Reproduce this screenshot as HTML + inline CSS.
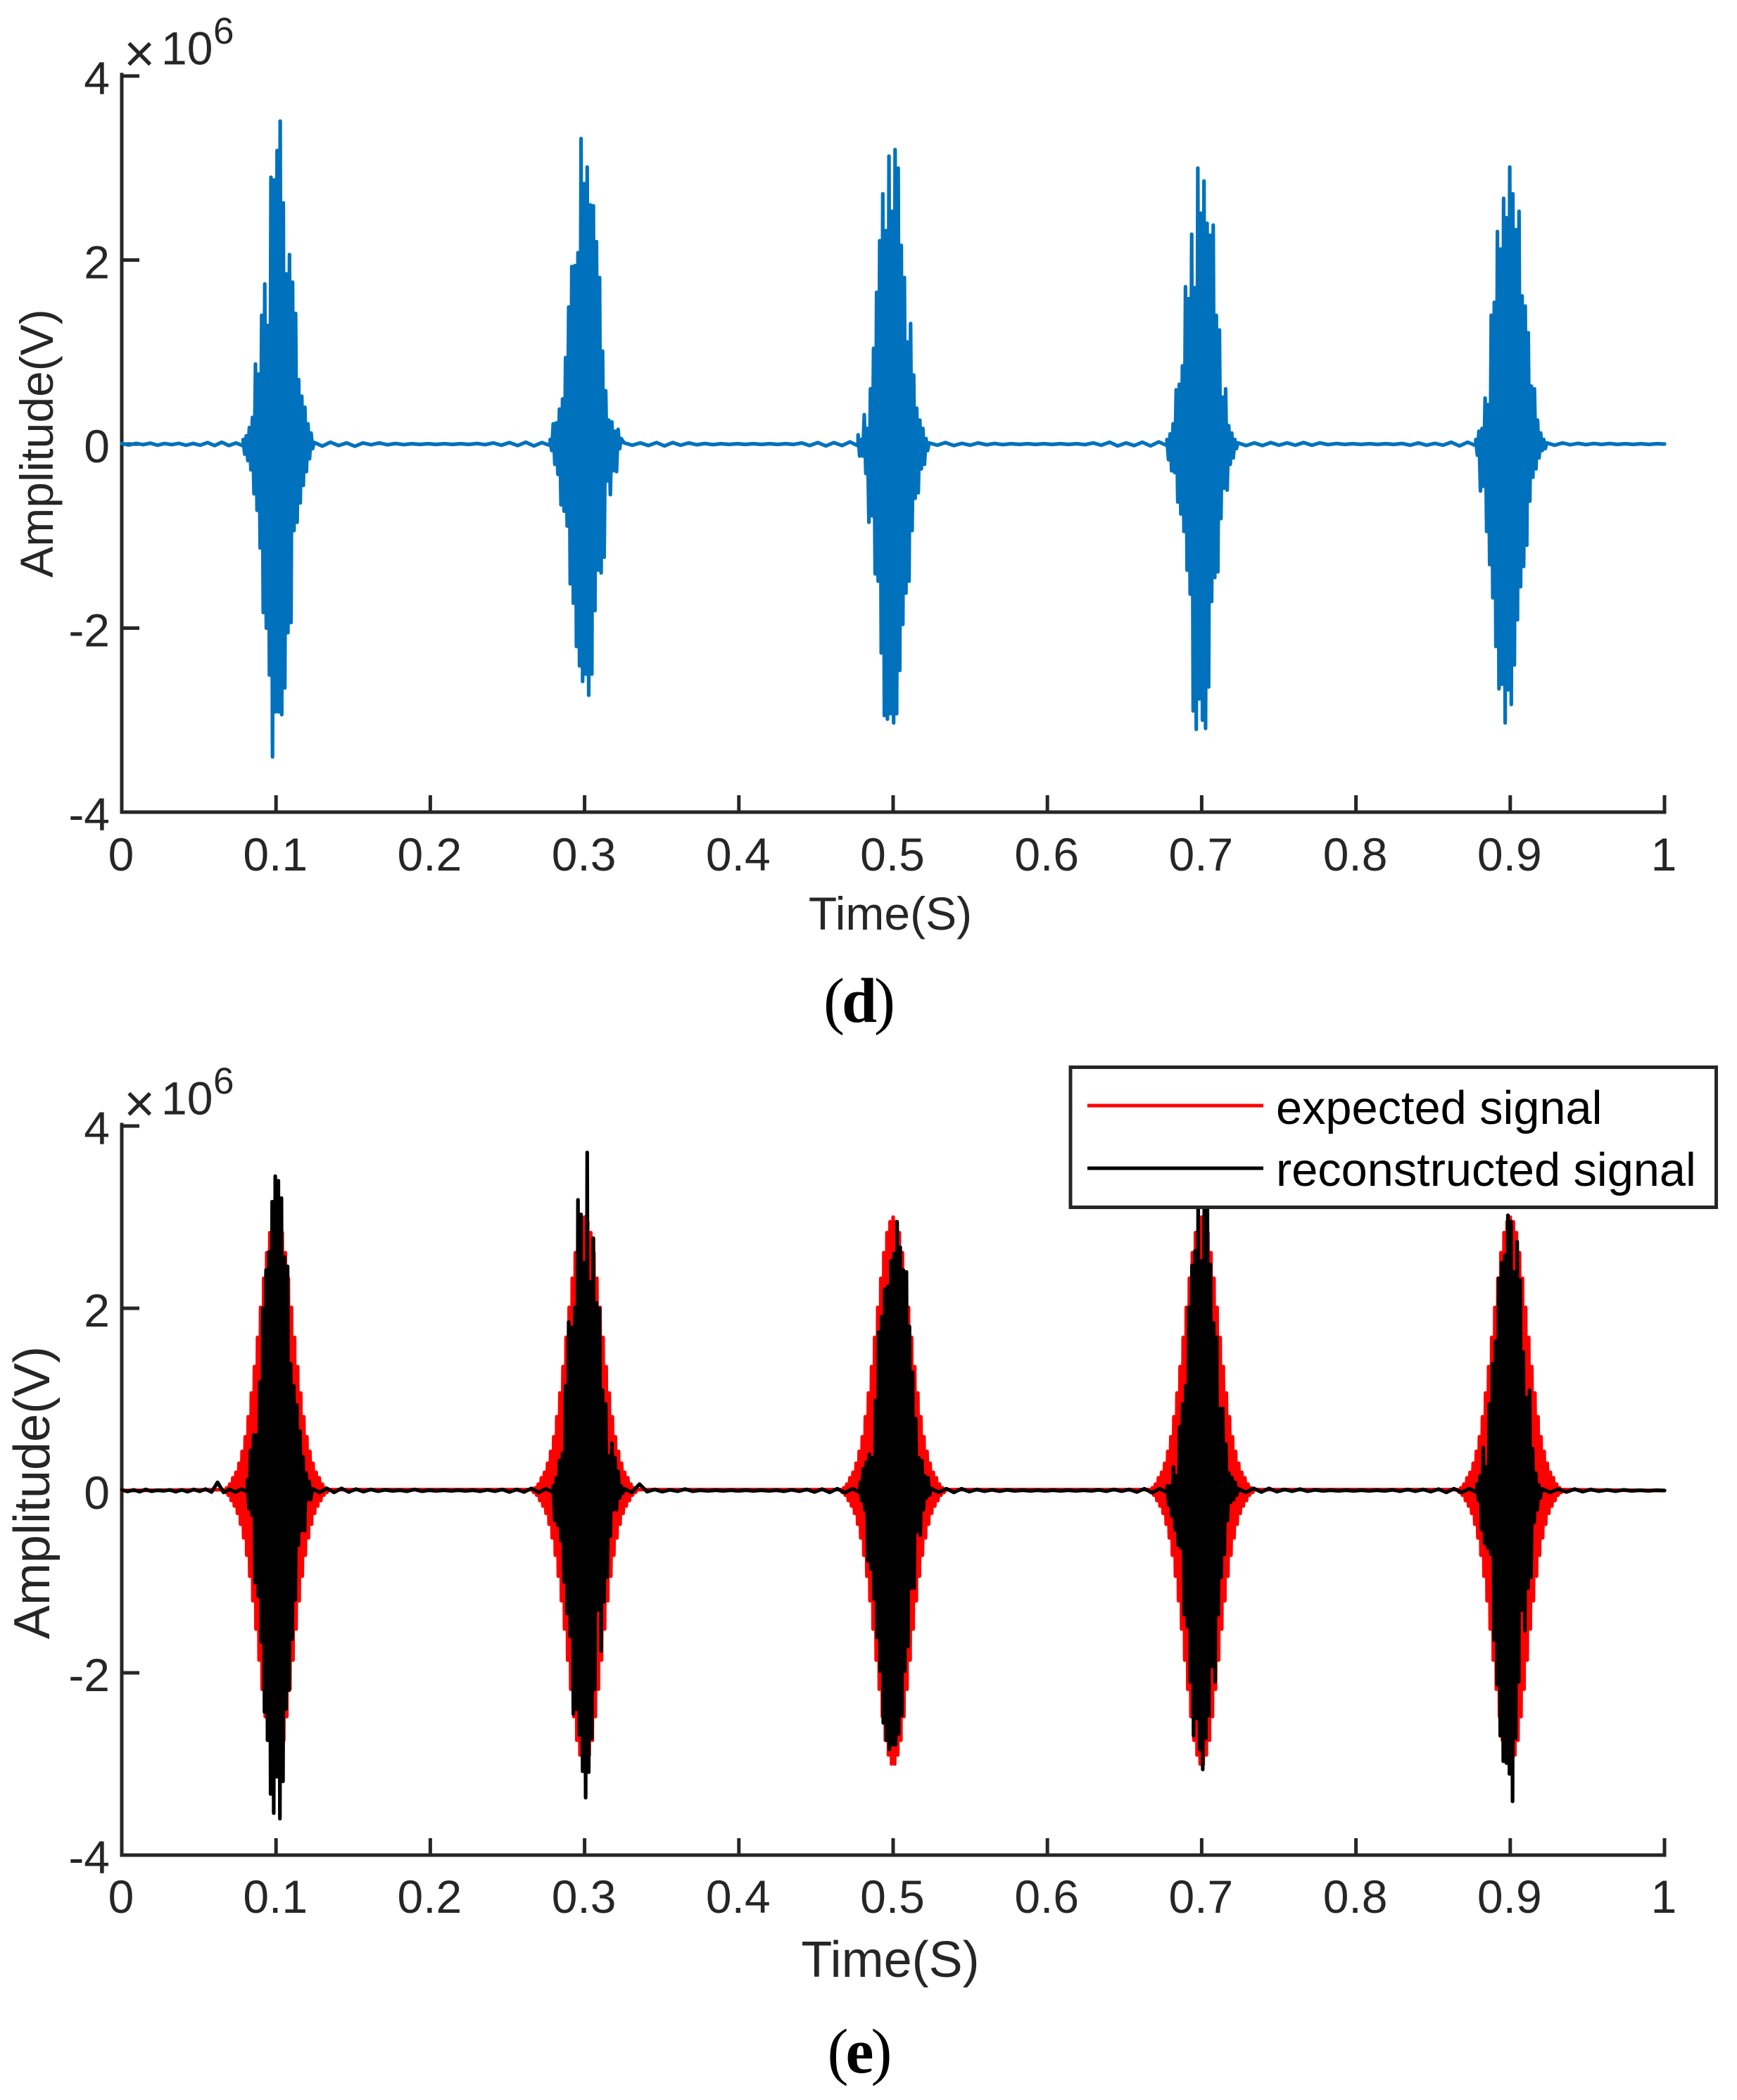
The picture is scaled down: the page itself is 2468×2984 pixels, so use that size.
<!DOCTYPE html>
<html lang="en">
<head>
<meta charset="utf-8">
<title>Expected and reconstructed signal amplitude over time</title>
<style>
  html, body { margin: 0; padding: 0; background: #ffffff; }
  svg { display: block; }
  text { font-family: "Liberation Sans", Arial, sans-serif; fill: #262626; }
  .cap { font-family: "Liberation Serif", "Times New Roman", serif; fill: #000; font-size: 90px; letter-spacing: -4px; }
  .legend-text { fill: #000; font-size: 66.7px; }
</style>
</head>
<body>
<svg id="figure" xmlns="http://www.w3.org/2000/svg" width="2468" height="2984" viewBox="0 0 2468 2984">
  <rect x="0" y="0" width="2468" height="2984" fill="#ffffff"/>

  <g id="chartD"></g>
  <g id="chartE"></g>

  <g>
    <text font-size="66" text-anchor="middle" transform="translate(75 630) rotate(-90)">Amplitude(V)</text>
    <text font-size="66" text-anchor="middle" x="1265" y="1321">Time(S)</text>
    <text font-size="76" x="176" y="102">×</text>
    <text font-size="66" x="229" y="91.5">10</text>
    <text font-size="53" x="303" y="62">6</text>
    <text class="cap" text-anchor="middle" x="1219" y="1452">(<tspan font-weight="bold">d</tspan>)</text>
  </g>

  <g>
    <text font-size="72" text-anchor="middle" transform="translate(70 2121) rotate(-90)">Amplitude(V)</text>
    <text font-size="72" text-anchor="middle" x="1265" y="2809">Time(S)</text>
    <text font-size="76" x="176" y="1594">×</text>
    <text font-size="66" x="229" y="1583.5">10</text>
    <text font-size="53" x="303" y="1554">6</text>
    <text class="cap" text-anchor="middle" x="1219.5" y="2945">(<tspan font-weight="bold">e</tspan>)</text>
  </g>

  <g>
    <rect x="1521" y="1516.5" width="917.5" height="199" fill="#ffffff" stroke="#262626" stroke-width="5"/>
    <line x1="1545" x2="1795" y1="1571" y2="1571" stroke="#ff0000" stroke-width="5"/>
    <text class="legend-text" x="1813" y="1597">expected signal</text>
    <line x1="1545" x2="1795" y1="1660" y2="1660" stroke="#000000" stroke-width="5"/>
    <text class="legend-text" x="1813" y="1685">reconstructed signal</text>
  </g>
</svg>

<script>
// ---------- shared axis data ----------
const xTicks = [0, 0.1, 0.2, 0.3, 0.4, 0.5, 0.6, 0.7, 0.8, 0.9, 1];
const xTickLabels = ["0", "0.1", "0.2", "0.3", "0.4", "0.5", "0.6", "0.7", "0.8", "0.9", "1"];
const yTicks = [-4, -2, 0, 2, 4];
const yTickLabels = ["-4", "-2", "0", "2", "4"];
const carrierPeriod = 0.002;

// ---------- chart (d): measured signal, amplitude in units of 1e6 V ----------
const dBurstStarts = [0.0787, 0.2777, 0.4773, 0.6775, 0.8777];
const dUpper1 = [.05,.09,.18,.29,.87,.76,1.40,1.74,1.29,2.90,2.87,3.19,3.51,2.62,1.85,2.06,1.76,1.42,.70,.52,.40,.22,.12];
const dLower1 = [-.11,-.18,-.28,-.54,-.72,-1.13,-1.83,-2.0,-2.51,-3.40,-2.91,-2.91,-2.94,-2.65,-2.05,-1.94,-.94,-.85,-.64,-.45,-.30,-.16,-.05];
const dUpper2 = [.05,.22,.23,.38,.49,.94,1.49,1.93,1.94,2.08,3.32,2.83,3.01,2.60,2.59,2.20,1.81,1.01,.58,.26,.24,.14,.16,.06];
const dLower2 = [-.07,-.22,-.33,-.66,-.73,-.89,-1.52,-1.73,-2.20,-2.41,-2.58,-2.50,-2.73,-2.50,-1.81,-1.37,-1.40,-1.23,-.40,-.55,-.29,-.30,-.05];
const dUpper3 = [.10,.05,.32,.17,.60,1.04,1.65,2.21,2.72,2.32,3.13,2.53,3.20,3.0,2.16,1.81,1.11,1.31,.75,.39,.26,.17,.06];
const dLower3 = [-.13,-.13,-.32,-.85,-.78,-1.41,-1.49,-2.27,-2.95,-2.99,-2.93,-3.03,-2.93,-2.46,-1.96,-1.62,-1.49,-.94,-.59,-.53,-.27,-.22,-.07];
const dUpper4 = [.05,.11,.22,.59,.65,.85,1.71,1.58,2.28,1.70,3.0,2.51,2.86,2.40,2.27,2.38,1.40,1.24,.51,.60,.20,.12,.05];
const dLower4 = [-.17,-.29,-.31,-.63,-.76,-.95,-1.37,-1.63,-2.90,-3.10,-2.77,-3.0,-3.09,-2.64,-1.71,-1.45,-1.39,-.81,-.48,-.50,-.22,-.15,-.05];
const dUpper5 = [.05,.14,.17,.50,.43,1.40,1.54,2.31,2.12,2.67,2.46,3.01,2.72,2.33,2.53,1.61,1.50,1.21,.63,.60,.26,.12,.05];
const dLower5 = [-.12,-.51,-.46,-.95,-1.31,-1.67,-2.20,-2.66,-2.61,-3.03,-2.67,-2.83,-2.40,-1.91,-1.55,-1.33,-1.10,-.62,-.36,-.27,-.15,-.07,-.05];
const dGap0 = [.006,-.01,.008,-.006,.01,-.012,.006,-.006,.008,-.012,.006,-.012,.016,-.016,.02,-.016,.012,-.02];
const dGap1 = [.018,-.022,.02,-.016,.012,-.024,.012,-.008,.012,-.008,.006,-.006,.004,-.004,.004,-.004,.004,-.004,.004,-.004,.006,-.006,.012,-.012,.016,-.016,.02,-.02,.016,-.016];
const dGap2 = [.012,-.012,.012,-.016,.016,-.02,.016,-.012,.012,-.008,.006,-.006,.004,-.004,.004,-.004,.004,-.004,.004,-.004,.004,-.004,.012,-.016,.016,-.02,.016,-.016,.024,-.02];
const dGap3 = [.012,-.012,.016,-.016,.008,-.012,.012,-.008,.006,-.006,.004,-.004,.004,-.004,.004,-.004,.004,-.004,.004,-.006,.012,-.012,.02,-.02,.012,-.016,.02,-.02,.024,-.016];
const dGap4 = [.012,-.016,.012,-.016,.016,-.012,.012,-.012,.016,-.012,.012,-.006,.006,-.004,.004,-.004,.004,-.004,.004,-.004,.006,-.012,.012,-.012,.008,-.012,.02,-.02,.02,-.016];
const dGap5 = [.012,-.012,.012,-.008,.008,-.006,.006,-.004,.006,-.004,.004,-.004,.004,-.004,.004,0];

// ---------- chart (e): expected signal envelope, repeated at each burst centre ----------
const expectedCentres = [0.1, 0.3, 0.5, 0.7, 0.9];
const expectedUpper = [.01,.03,.07,.14,.20,.30,.43,.59,.81,1.07,1.36,1.68,2.01,2.33,2.61,2.83,2.95,3.0,2.95,2.83,2.61,2.33,2.01,1.68,1.36,1.07,.81,.59,.43,.30,.20,.14,.07,.03,.01];
const expectedLower = [-.02,-.05,-.11,-.17,-.25,-.37,-.52,-.71,-.94,-1.21,-1.52,-1.86,-2.18,-2.48,-2.74,-2.9,-3.0,-3.0,-2.9,-2.74,-2.48,-2.18,-1.86,-1.52,-1.21,-.94,-.71,-.52,-.37,-.25,-.17,-.11,-.05,-.02];

// ---------- chart (e): reconstructed signal ----------
const eBurstStarts = [0.0815, 0.2797, 0.4786, 0.6777, 0.8785];
const eUpper1 = [.12,.44,.61,.61,1.19,2.0,2.42,2.62,3.17,3.45,3.40,3.21,2.56,2.46,1.39,1.15,.94,.65,.37,.19,.1];
const eLower1 = [-.2,-.27,-1.01,-1.16,-1.66,-2.43,-2.74,-3.33,-3.54,-3.14,-3.60,-3.19,-2.4,-2.19,-1.63,-1.2,-.6,-.44,-.44,-.1,-.1];
const eUpper2 = [.05,.14,.33,.41,1.15,1.85,1.79,2.01,3.19,3.03,2.5,3.71,2.29,2.77,2.06,2.0,1.10,.95,.38,.52,.36,.21,.05];
const eLower2 = [-.33,-.38,-.55,-1.0,-1.35,-1.6,-2.45,-2.4,-2.68,-3.08,-3.37,-3.09,-2.72,-2.18,-1.31,-1.76,-1.22,-.95,-.5,-.21,-.21,-.08,-.03];
const eUpper3 = [.09,.24,.31,.40,.36,.99,1.74,1.91,2.21,2.24,2.52,2.6,2.95,2.67,2.42,2.4,1.8,1.30,.79,.36,.33,.16,.14];
const eLower3 = [-.11,-.21,-.77,-.86,-1.19,-1.61,-1.98,-2.55,-2.74,-2.84,-2.79,-2.79,-2.67,-2.47,-1.98,-1.71,-1.07,-1.07,-.45,-.49,-.21,-.08,-.05];
const eUpper4 = [.05,.05,.26,.16,.70,.95,1.15,2.01,2.47,2.63,3.25,2.52,3.2,3.1,2.48,1.84,1.68,.90,.90,.51,.19,.14,.09];
const eLower4 = [-.16,-.28,-.43,-.6,-.63,-1.36,-1.49,-2.1,-2.69,-2.5,-2.84,-3.06,-2.72,-2.47,-1.93,-2.1,-1.36,-.95,-.7,-.33,-.13,-.1,-.05];
const eUpper5 = [.07,.16,.47,.26,.95,1.39,1.64,2.33,2.5,2.58,3.02,2.95,2.4,2.73,2.31,1.52,1.02,1.10,.46,.19,.06];
const eLower5 = [-.11,-.43,-.58,-.63,-.7,-1.64,-2.13,-2.69,-2.97,-2.99,-3.11,-3.41,-2.72,-2.1,-1.31,-1.54,-1.07,-.95,-.35,-.21,-.08];
const eGap0 = [.006,-.01,.008,-.012,.012,-.008,.004,-.004,.008,-.012,.008,-.012,.012,-.008,.016,-.016,.09,-.02,.012,-.016,.016,-.016];
const eGap1 = [.02,-.02,.024,-.02,.024,-.016,.016,-.012,.012,-.008,.008,-.004,.004,-.008,.012,-.008,.004,-.004,.004,-.004,.004,-.004,.004,-.008,.008,-.008,.012,-.016,.012,-.016,.024,-.02,.02,-.02];
const eGap2 = [.02,-.02,.07,-.012,.012,-.012,.008,-.008,.016,-.008,.004,-.004,.004,-.004,.004,-.004,.004,-.004,.004,-.004,.004,-.008,.008,-.008,.012,-.016,.016,-.02,.02,-.024,.02,-.02];
const eGap3 = [.024,-.02,.02,-.02,.02,-.012,.012,-.008,.008,-.008,.008,-.004,.004,-.004,.004,-.004,.004,-.004,.004,-.004,.004,-.004,.008,-.008,.012,-.008,.012,-.016,.02,-.024,.02,-.02];
const eGap4 = [.02,-.02,.024,-.016,.024,-.012,.012,-.008,.016,-.008,.008,-.004,.004,-.004,.004,-.004,.004,-.004,.004,-.004,.008,-.008,.012,-.008,.012,-.012,.016,-.02,.02,-.02,.02,-.02];
const eGap5 = [.02,-.02,.016,-.016,.016,-.012,.012,-.008,.008,-.008,.008,-.004,.004,-.004,.004,0];

const SVGNS = 'http://www.w3.org/2000/svg';

function makeAxis(top, zero, bottom, left, right) {
  return {
    top: top, zero: zero, bottom: bottom, left: left, right: right,
    x: function (t) { return left + t * (right - left); },
    y: function (v) { return zero - v * (bottom - top) / 8; }
  };
}

function drawAxes(group, ax, suffix, labelBaseline) {
  const frame = document.createElementNS(SVGNS, 'path');
  
  
  frame.setAttribute('d', 'M' + ax.left + ' ' + (ax.top - 2) + 'V' + ax.bottom + 'H' + ax.right);
  frame.setAttribute('fill', 'none');
  frame.setAttribute('stroke', '#262626');
  frame.setAttribute('stroke-width', '5');
  frame.setAttribute('stroke-linecap', 'square');
  group.appendChild(frame);

  xTicks.forEach(function (tick, i) {
    const px = ax.x(tick);
    const mark = document.createElementNS(SVGNS, 'line');
    
    
    mark.setAttribute('x1', px);
    mark.setAttribute('x2', px);
    mark.setAttribute('y1', ax.bottom);
    mark.setAttribute('y2', ax.bottom - 24);
    mark.setAttribute('stroke', '#262626');
    mark.setAttribute('stroke-width', '5');
    group.appendChild(mark);

    const label = document.createElementNS(SVGNS, 'text');
    
    
    label.setAttribute('x', px - 1);
    label.setAttribute('y', labelBaseline);
    label.setAttribute('font-size', '66');
    label.setAttribute('text-anchor', 'middle');
    label.textContent = xTickLabels[i];
    group.appendChild(label);
  });

  yTicks.forEach(function (tick, i) {
    const py = ax.y(tick);
    const mark = document.createElementNS(SVGNS, 'line');
    
    
    mark.setAttribute('x1', ax.left);
    mark.setAttribute('x2', ax.left + 25);
    mark.setAttribute('y1', py);
    mark.setAttribute('y2', py);
    mark.setAttribute('stroke', '#262626');
    mark.setAttribute('stroke-width', '5');
    group.appendChild(mark);

    const label = document.createElementNS(SVGNS, 'text');
    
    
    label.setAttribute('x', ax.left - 17);
    label.setAttribute('y', py + 26);
    label.setAttribute('font-size', '66');
    label.setAttribute('text-anchor', 'end');
    label.textContent = yTickLabels[i];
    group.appendChild(label);
  });
}

// One trace = gap noise + burst + gap noise + ... ; each burst oscillates between its envelopes.
function tracePoints(ax, starts, uppers, lowers, gaps) {
  const pts = [];
  for (let k = 0; k < gaps.length; k++) {
    const from = k === 0 ? 0 : starts[k - 1] + uppers[k - 1].length * carrierPeriod;
    const to = k === starts.length ? 1 : starts[k];
    const gap = gaps[k];
    for (let j = 0; j < gap.length; j++) {
      const t = from + (to - from) * j / (gap.length - 1);
      pts.push(ax.x(t).toFixed(1) + ',' + ax.y(gap[j]).toFixed(1));
    }
    if (k < starts.length) {
      const up = uppers[k];
      const low = lowers[k];
      for (let i = 0; i < up.length; i++) {
        const t = starts[k] + i * carrierPeriod;
        pts.push(ax.x(t).toFixed(1) + ',' + ax.y(up[i]).toFixed(1));
        if (i < low.length) {
          pts.push(ax.x(t + carrierPeriod / 2).toFixed(1) + ',' + ax.y(low[i]).toFixed(1));
        }
      }
    }
  }
  return pts;
}

function expectedPoints(ax) {
  const pts = [ax.x(0).toFixed(1) + ',' + ax.y(0).toFixed(1)];
  const half = (expectedUpper.length - 1) / 2;
  expectedCentres.forEach(function (centre) {
    for (let i = 0; i < expectedUpper.length; i++) {
      const t = centre + (i - half) * carrierPeriod;
      pts.push(ax.x(t).toFixed(1) + ',' + ax.y(expectedUpper[i]).toFixed(1));
      if (i < expectedLower.length) {
        pts.push(ax.x(t + carrierPeriod / 2).toFixed(1) + ',' + ax.y(expectedLower[i]).toFixed(1));
      }
    }
  });
  pts.push(ax.x(1).toFixed(1) + ',' + ax.y(0).toFixed(1));
  return pts;
}

function addTrace(group, points, colour) {
  const line = document.createElementNS(SVGNS, 'polyline');
  line.setAttribute('points', points.join(' '));
  line.setAttribute('fill', 'none');
  line.setAttribute('stroke', colour);
  line.setAttribute('stroke-width', '5.2');
  line.setAttribute('stroke-linejoin', 'round');
  line.setAttribute('stroke-linecap', 'round');
  group.appendChild(line);
  return line;
}

const axisD = makeAxis(108, 631, 1154, 173, 2365);
const axisE = makeAxis(1600, 2118, 2636, 173, 2365);
const groupD = document.getElementById('chartD');
const groupE = document.getElementById('chartE');

drawAxes(groupD, axisD, 'd', 1237);
drawAxes(groupE, axisE, 'e', 2718);

const measuredLine = addTrace(groupD, tracePoints(axisD, dBurstStarts,
  [dUpper1, dUpper2, dUpper3, dUpper4, dUpper5],
  [dLower1, dLower2, dLower3, dLower4, dLower5],
  [dGap0, dGap1, dGap2, dGap3, dGap4, dGap5]), '#0072BD');



const expectedLine = addTrace(groupE, expectedPoints(axisE), '#ff0000');



const reconstructedLine = addTrace(groupE, tracePoints(axisE, eBurstStarts,
  [eUpper1, eUpper2, eUpper3, eUpper4, eUpper5],
  [eLower1, eLower2, eLower3, eLower4, eLower5],
  [eGap0, eGap1, eGap2, eGap3, eGap4, eGap5]), '#000000');


</script>
</body>
</html>
